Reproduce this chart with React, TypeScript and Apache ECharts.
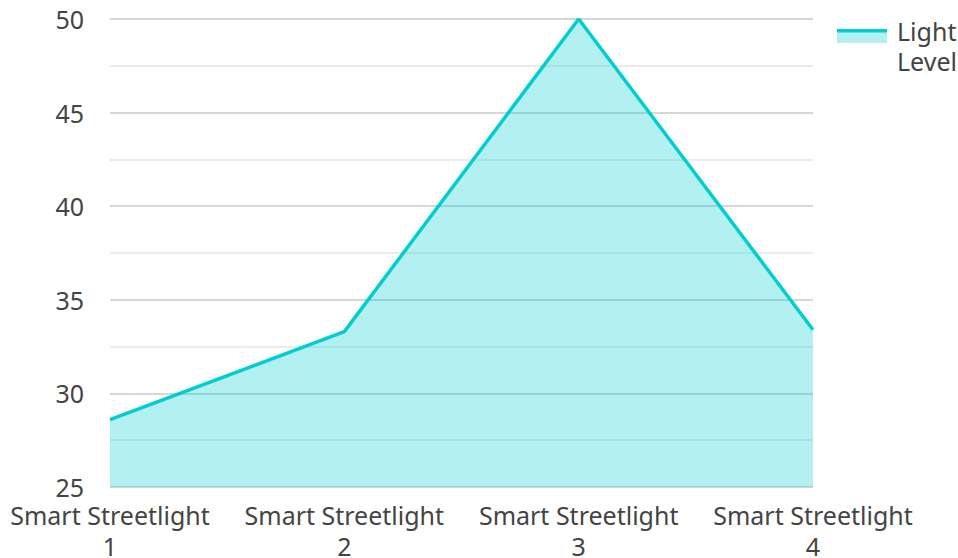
import React, { useEffect, useRef } from "react";
import * as echarts from "echarts";

const categories = ["Smart Streetlight\n1", "Smart Streetlight\n2", "Smart Streetlight\n3", "Smart Streetlight\n4"];
const lightLevel = [28.6, 33.3, 50, 33.4];
const seriesName = "Light Level";
const legendLabel = "Light\nLevel";

export default function App() {
  const ref = useRef<HTMLDivElement>(null);
  useEffect(() => {
    document.body.style.margin = "0";
    const chart = echarts.init(ref.current!, null, { renderer: "svg" });
    const font = "Noto Sans";
    const teal = "#00CED1";
    chart.setOption({
      animation: false,
      grid: { left: 110, right: 145, top: 19, bottom: 71, containLabel: false, outerBoundsMode: "none" },
      legend: { show: false, data: [seriesName] },
      graphic: [
        { type: "rect", left: 837, top: 29, shape: { width: 50, height: 14 }, style: { fill: "rgba(0,206,209,0.3)" }, silent: true },
        { type: "rect", left: 837, top: 29, shape: { width: 50, height: 3.5 }, style: { fill: teal }, silent: true },
        {
          type: "text",
          left: 897,
          top: 16,
          silent: true,
          style: { text: legendLabel, fontFamily: font, fontSize: 25, fill: "#444", lineHeight: 30 },
        },
      ],
      xAxis: {
        type: "category",
        data: categories,
        boundaryGap: false,
        axisLine: { show: false },
        axisTick: { show: false },
        axisLabel: { interval: 0, fontFamily: font, fontSize: 25, color: "#444", lineHeight: 31, margin: 12 },
      },
      yAxis: {
        type: "value",
        min: 25,
        max: 50,
        interval: 5,
        axisLabel: { fontFamily: font, fontSize: 25, color: "#444", margin: 26 },
        splitLine: { lineStyle: { color: "#c8c8c8", width: 1.5 } },
        minorTick: { show: false, splitNumber: 2 },
        minorSplitLine: { show: true, lineStyle: { color: "#e6e6e6", width: 1.5 } },
      },
      series: [
        {
          name: seriesName,
          type: "line",
          data: lightLevel,
          showSymbol: false,
          symbol: "none",
          lineStyle: { color: teal, width: 3.5 },
          itemStyle: { color: teal },
          areaStyle: { color: teal, opacity: 0.3 },
        },
      ],
    });
    return () => chart.dispose();
  }, []);
  return <div ref={ref} style={{ width: 958, height: 558 }} />;
}
